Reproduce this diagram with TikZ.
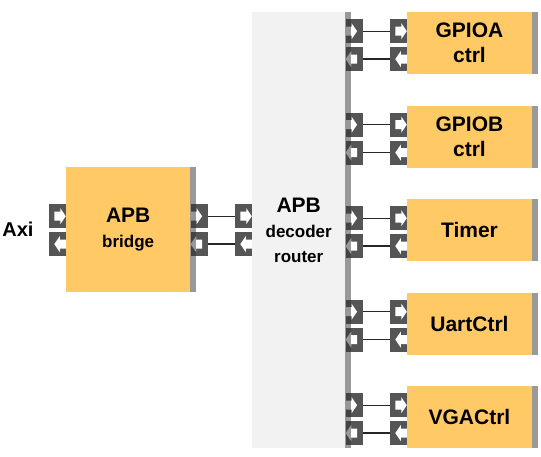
\documentclass[tikz,border=0pt]{standalone}
\usepackage{fontspec}
\setmainfont{Liberation Sans}
\usepackage{tikz}
\usepackage{color}

\definecolor{boxorange}{HTML}{FFCA66}
\definecolor{routergray}{HTML}{F2F2F2}
\definecolor{portgray}{HTML}{555555}
\definecolor{edgegray}{HTML}{333333}

\tikzset{
  block/.style={fill=boxorange, inner sep=0pt, anchor=north west, align=center,
    font=\bfseries\fontsize{21}{25}\selectfont},
  port/.style={fill=portgray, minimum width=17pt, minimum height=24pt, inner sep=0pt},
  edgebar/.style={fill=edgegray, opacity=0.5},
  wire/.style={black!85, line width=1.4pt},
  tipin/.pic={\fill[white] (-3,-4.5) -- (3,-4.5) -- (3,-8) -- (8.5,0) -- (3,8) -- (3,4.5) -- (-3,4.5) -- cycle;},
  tipout/.pic={\fill[white] (-8.5,-4.5) -- (-2.5,-4.5) -- (-2.5,-8) -- (3,0) -- (-2.5,8) -- (-2.5,4.5) -- (-8.5,4.5) -- cycle;}
}

\begin{document}
\begin{tikzpicture}[x=1pt, y=-1pt]
\useasboundingbox (0,0) rectangle (541,456);

% bridge and router
\node[block, minimum width=124pt, minimum height=125pt] (bridge) at (66,167)
  {APB\\{\fontsize{17}{20}\selectfont bridge}};
\node[block, fill=routergray, minimum width=93pt, minimum height=436pt] (router) at (252,12)
  {APB\\{\fontsize{17}{20}\selectfont decoder}\\{\fontsize{17}{20}\selectfont router}};

\node[font=\bfseries\fontsize{20}{24}\selectfont] (axi) at (18,229) {Axi};

% bridge ports
\node[port, anchor=north east] (axi-i) at ([yshift=-37pt]bridge.north west) {};
\node[port, anchor=north] (axi-o) at ([yshift=-3.5pt]axi-i.south) {};
\node[port, anchor=north west] (apb-o) at ([yshift=-37pt]bridge.north east) {};
\node[port, anchor=north] (apb-i) at ([yshift=-3.5pt]apb-o.south) {};
\node[port, anchor=east] (rin-i) at (router.west |- apb-o) {};
\node[port, anchor=east] (rin-o) at (router.west |- apb-i) {};
\draw[wire] (apb-o) -- (rin-i);
\draw[wire] (apb-i) -- (rin-o);
\pic at (axi-i) {tipin};
\pic[xscale=-1] at (axi-o) {tipout};
\pic at (apb-o) {tipout};
\pic[xscale=-1] at (apb-i) {tipin};
\pic at (rin-i) {tipin};
\pic[xscale=-1] at (rin-o) {tipout};

% peripherals
\foreach \name/\txt [count=\i from 0] in {gpioa/{GPIOA\\ctrl}, gpiob/{GPIOB\\ctrl},
    timer/Timer, uart/UartCtrl, vga/VGACtrl} {
  \node[block, minimum width=124.5pt, minimum height=62pt] (\name) at (407,12+93.5*\i) {\txt};
  \node[port, anchor=north east] (\name-i) at ([yshift=-7pt]\name.north west) {};
  \node[port, anchor=north] (\name-o) at ([yshift=-3.5pt]\name-i.south) {};
  \node[port, anchor=west] (r-\name-o) at (router.east |- \name-i) {};
  \node[port, anchor=west] (r-\name-i) at (router.east |- \name-o) {};
  \draw[wire] (r-\name-o) -- (\name-i);
  \draw[wire] (r-\name-i) -- (\name-o);
  \pic at (\name-i) {tipin};
  \pic[xscale=-1] at (\name-o) {tipout};
  \pic at (r-\name-o) {tipout};
  \pic[xscale=-1] at (r-\name-i) {tipin};
  \fill[edgebar] (\name.north east) rectangle ++(6,62);
}

% shaded right edges
\fill[edgebar] (bridge.north east) rectangle ++(6,125);
\fill[edgebar] (router.north east) rectangle ++(6,436);
\end{tikzpicture}
\end{document}
